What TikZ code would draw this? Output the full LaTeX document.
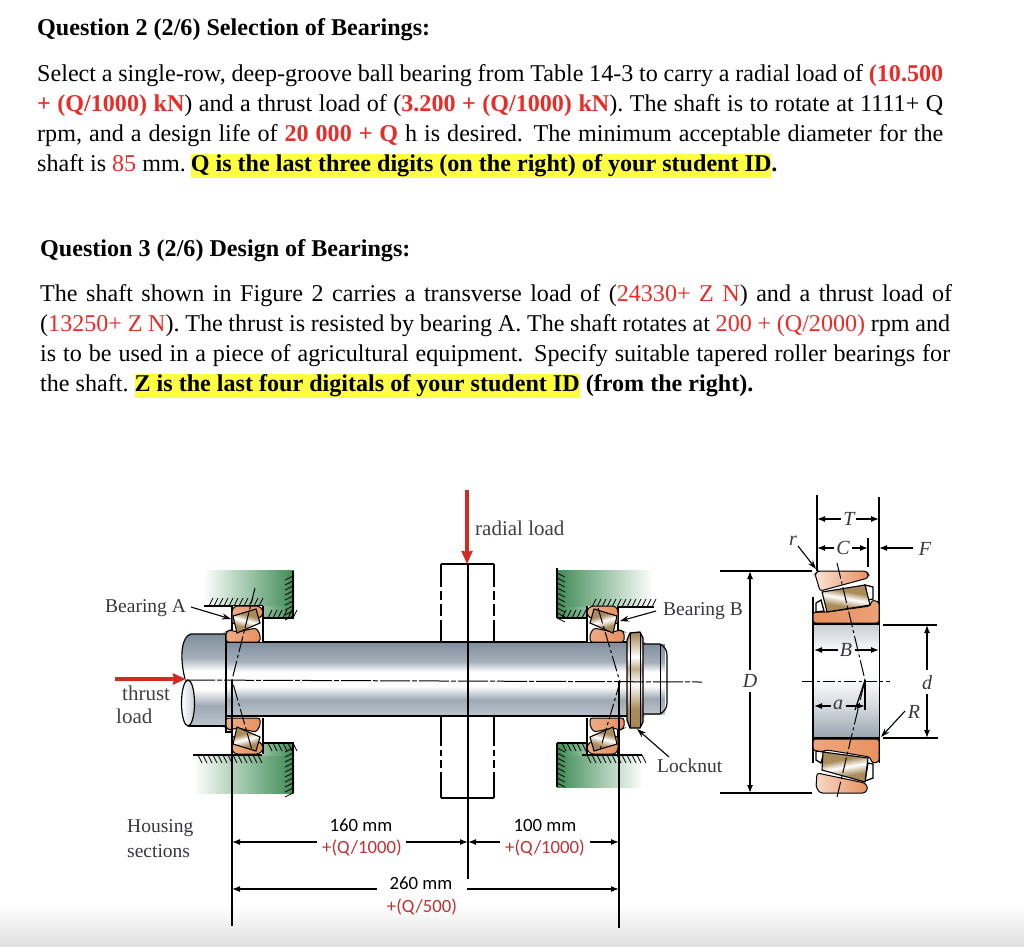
\documentclass[tikz,border=0pt]{standalone}
\usepackage{fontspec}
\setmainfont{Liberation Serif}
\newfontfamily\carl{Carlito}
\usetikzlibrary{arrows.meta}
\definecolor{qred}{RGB}{232,45,40}
\definecolor{dimred}{RGB}{190,50,50}
\definecolor{lab}{RGB}{55,55,60}
\definecolor{hl}{RGB}{255,255,65}
\definecolor{grn}{RGB}{62,140,85}
\definecolor{brg}{RGB}{232,145,95}
\definecolor{rol}{RGB}{170,140,90}
\definecolor{stl}{RGB}{125,140,155}
\pgfdeclareverticalshading{shaftsh}{100bp}{
 color(0bp)=(stl!90!black); color(8bp)=(stl); color(22bp)=(stl!45!white); color(36bp)=(stl!75!white);
 color(45bp)=(white); color(55bp)=(white); color(62bp)=(stl!70!white); color(76bp)=(stl);
 color(86bp)=(stl!60!white); color(94bp)=(stl); color(100bp)=(stl!90!black)}
\pgfdeclareverticalshading{boresh}{100bp}{
 color(0bp)=(stl!95!black); color(22bp)=(stl!90!white); color(38bp)=(stl!35!white); color(52bp)=(white);
 color(62bp)=(white); color(74bp)=(stl!40!white); color(84bp)=(stl!95!black); color(92bp)=(stl!55!white); color(100bp)=(stl!60!white)}
\pgfdeclareverticalshading{nutsh}{100bp}{
 color(0bp)=(rol!90!black); color(35bp)=(rol); color(48bp)=(white); color(56bp)=(white!30!rol); color(62bp)=(white); color(74bp)=(rol); color(100bp)=(rol!85!black)}
\pgfdeclareverticalshading{rollersh}{100bp}{
 color(0bp)=(rol); color(36bp)=(rol); color(50bp)=(white); color(62bp)=(rol); color(100bp)=(rol)}
\newcommand{\rd}[1]{\textcolor{qred}{#1}}
\newcommand{\hlt}[1]{\setlength{\fboxsep}{0pt}\colorbox{hl}{\rule[-6.5pt]{0pt}{22pt}#1}}
\tikzset{
 ln/.style={anchor=base west,inner sep=0,font=\fontsize{24.1}{28}\selectfont},
 lnb/.style={anchor=base west,inner sep=0,font=\bfseries\fontsize{24.1}{28}\selectfont},
 lab/.style={inner sep=0,text=lab,anchor=base west,font=\fontsize{19.5}{24}\selectfont},
 labl/.style={inner sep=0,text=black!75,anchor=base west,font=\fontsize{21}{24}\selectfont},
 dimtxt/.style={inner sep=0,font=\carl\fontsize{18.7}{22}\selectfont},
 dl/.style={black,line width=1.25pt},
 head/.style={-{Latex[length=8pt,width=6pt]}},
 tail/.style={{Latex[length=8pt,width=6pt]}-},
 hatchline/.style={black,line width=1.1pt},
 ol/.style={draw=black,line width=1.15pt},
 centre/.style={black,line width=1pt,dash pattern=on 30pt off 2pt on 5pt off 2pt},
 axisl/.style={black,line width=1pt,dash pattern=on 16pt off 3pt on 3pt off 3pt},
 ital/.style={inner sep=0,text=lab,font=\itshape\fontsize{20}{22}\selectfont},
 leader/.style={black,line width=1.1pt,-{Stealth[length=9pt,width=6pt]}},
 redar/.style={qred!90!black,line width=3.4pt,-{Stealth[length=13pt,width=11pt,inset=1pt]}},
 racesh/.style={left color=brg!75!white,right color=brg,draw=black,line width=1pt,rounded corners=2.5pt},
 rollsh/.style={shading=rollersh,draw=black,line width=1.1pt},
 grsh/.style={left color=white,right color=grn},
 grshr/.style={right color=white,left color=grn}
}
\newcommand{\hatchH}[4]{% x1 x2 y dy
  \draw[hatchline] (#1,#3)--(#2,#3);
  \pgfmathsetmacro{\st}{#1+5}
  \foreach \xx in {\st,...,#2}{\pgfmathtruncatemacro{\mm}{mod(\xx-#1,5)}\ifnum\mm=0 \draw[black,line width=.85pt] (\xx,#3)--++(4,#4);\fi}}
\newcommand{\hatchV}[4]{% y1 y2 x dx
  \draw[hatchline] (#3,#1)--(#3,#2);
  \pgfmathsetmacro{\st}{#1+5}
  \foreach \yy in {\st,...,#2}{\pgfmathtruncatemacro{\mm}{mod(\yy-#1,5)}\ifnum\mm=0 \draw[black,line width=.85pt] (#3,\yy)--++(#4,4);\fi}}
% one roller-bearing section, drawn for bearing A top, mirrored for the others
\newcommand{\bearingsec}[1]{%
  \fill[white] (232,606) rectangle (263,642);
  \draw[ol] (232,606)--(232,630);
  \draw[ol] (263,606)--(263,642);
  \path[racesh] (232,610)--(235,606)--(259,606)--(263,610)--(263,614)--(260,618)--(232,624)--cycle;
  \path[racesh] (226,642)--(226,632)--(230,630)--(237,632)--(256,628)--(260,634)--(260,642)--cycle;
  \path[rollsh,shading angle=#1] (233,616)--(256,609)--(260,623)--(237,633)--cycle;
}
\begin{document}
\begin{tikzpicture}[x=1pt,y=-1pt]
\useasboundingbox (0,0) rectangle (1024,946);
\fill[white] (0,0) rectangle (1024,946);
\shade[top color=white,bottom color=black!12] (0,905) rectangle (1024,946);
% Text
\node[lnb] (q2t) at (37,35) {Question 2 (2/6) Selection of Bearings:};
\node[ln] (q2a) at (37,81) {\makebox[906pt][s]{Select a single-row, deep-groove ball bearing from Table 14-3 to carry a radial load of \rd{\textbf{(10.500}}}};
\node[ln] (q2b) at (37,111) {\makebox[906pt][s]{\rd{\textbf{+ (Q/1000) kN}}) and a thrust load of (\rd{\textbf{3.200 + (Q/1000) kN}}). The shaft is to rotate at 1111+ Q}};
\node[ln] (q2c) at (37,141) {\makebox[906pt][s]{rpm, and a design life of \rd{\textbf{20 000 + Q}} h is desired. The minimum acceptable diameter for the}};
\node[ln] (q2d) at (37,171) {shaft is \rd{85} mm.\hspace{-3pt} \hlt{\textbf{Q is the last three digits (on the right) of your student ID}}\textbf{.}};
\node[lnb] (q3t) at (40,256) {Question 3 (2/6) Design of Bearings:};
\node[ln] (q3a) at (40,301) {\makebox[912pt][s]{The shaft shown in Figure 2 carries a transverse load of (\rd{24330+ Z N}) and a thrust load of}};
\node[ln] (q3b) at (40,331) {\makebox[910pt][s]{(\rd{13250+ Z N}). The thrust is resisted by bearing A. The shaft rotates at \rd{200 + (Q/2000)} rpm and}};
\node[ln] (q3c) at (40,361) {\makebox[910pt][s]{is to be used in a piece of agricultural equipment. Specify suitable tapered roller bearings for}};
\node[ln] (q3d) at (40,391) {the shaft.\hspace{-2pt} \hlt{\textbf{Z is the last four digitals of your student ID}} \textbf{(from the right).}};
% Housings
\shade[grsh] (203,570) rectangle (294,606);
\shade[right color=grn,left color=grn!55!white] (263,606) rectangle (294,618);
\shade[grsh] (193,755) rectangle (294,793);
\shade[right color=grn,left color=grn!55!white] (263,743) rectangle (294,755);
\shade[grshr] (557,570) rectangle (653,607);
\shade[left color=grn,right color=grn!55!white] (557,607) rectangle (587,618);
\shade[grshr] (557,755) rectangle (643,787);
\shade[left color=grn,right color=grn!55!white] (557,743) rectangle (587,755);
\hatchH{204}{263}{606}{-8}
\hatchH{263}{294}{618}{-8}
\hatchV{571}{618}{293}{-8}
\hatchH{193}{262}{755}{8}
\hatchH{263}{294}{743}{8}
\hatchV{743}{793}{293}{-8}
\hatchH{587}{654}{607}{-8}
\hatchH{557}{587}{618}{-8}
\hatchV{568}{618}{557}{8}
\hatchH{582}{642}{755}{8}
\hatchH{557}{587}{743}{8}
\hatchV{743}{787}{557}{8}
% Shaft
\path[shading=shaftsh] (226,642) rectangle (645,716);
\draw[ol] (226,642)--(640,642);
\draw[ol] (226,716)--(640,716);
\path[shading=shaftsh] (640,644) rectangle (665,714);
\draw[ol] (640,644)--(660,644) .. controls (664,646) and (667,650) .. (667,655) -- (667,703) .. controls (667,708) and (664,712) .. (660,714) -- (640,714);
\draw[black,line width=1pt] (660,644)--(660,714);
% Left stub end
\path[shading=shaftsh] (226,634) -- (191,634) .. controls (182,636) and (179,655) .. (185,679) -- (183,700) -- (190,726) -- (226,726) -- cycle;
\draw[ol] (226,634)--(191,634) .. controls (182,636) and (179,655) .. (185,679);
\draw[ol] (188,726)--(226,726);
\path[left color=white,right color=stl!40!white,draw=black,line width=1.15pt] (188,703) ellipse (6.5 and 23);
\draw[ol] (226,634)--(226,732)--(232,732);
% Gear section
\draw[ol] (441,564)--(494,564);
\draw[ol] (441,798)--(494,798);
\draw[ol,dash pattern=on 23pt off 4pt on 9pt off 4pt on 12pt off 4pt on 30pt] (441,564)--(441,642);
\draw[ol,dash pattern=on 23pt off 4pt on 9pt off 4pt on 12pt off 4pt on 30pt] (494,564)--(494,642);
\draw[ol,dash pattern=on 30pt off 4pt on 6pt off 4pt on 8pt off 4pt on 40pt] (441,716)--(441,798);
\draw[ol,dash pattern=on 30pt off 4pt on 6pt off 4pt on 8pt off 4pt on 40pt] (494,716)--(494,798);
% Bearings
\bearingsec{-15}
\begin{scope}[yscale=-1,yshift=1360pt]\bearingsec{15}\end{scope}
\begin{scope}[xscale=-1,xshift=-850pt]\bearingsec{15}\end{scope}
\begin{scope}[xscale=-1,yscale=-1,xshift=-850pt,yshift=1360pt]\bearingsec{-15}\end{scope}
% Locknut
\path[shading=nutsh,draw=black,line width=1.3pt] (627,640)--(630,633)--(640,632)--(643,638)--(643,722)--(640,728)--(630,728)--(627,720)--cycle;
\draw[black,line width=1pt] (630,633)--(630,728);
\draw[black,line width=1pt] (640,632)--(640,728);
% Centre lines
\draw[centre] (185,680)--(702,682);
\draw[axisl] (255,588)--(232,680)--(252,750);
\draw[axisl] (598,608)--(620,682)--(600,750);
\draw[dl] (468,564)--(468,879);
% Extension lines
\draw[dl] (232,680)--(232,926);
\draw[dl] (619,682)--(619,928);
% Loads
\coordinate (radT) at (467,564);
\draw[redar] (467,490)--(radT);
\node[labl] (rl) at (475,535) {radial load};
\coordinate (thrT) at (186,679);
\draw[redar] (115,679)--(thrT);
\node[labl] (tl1) at (122,700) {thrust};
\node[labl] (tl2) at (116,723) {load};
% labels
\node[lab] (ba) at (105,612) {Bearing A};
\coordinate (baT) at (231,619);
\draw[leader] (191,607)--(baT);
\node[lab] (bb) at (663,615) {Bearing B};
\coordinate (bbT) at (620,621);
\draw[leader] (656,611)--(bbT);
\node[lab] (ln) at (657,772) {Locknut};
\coordinate (lnT) at (637,729);
\draw[leader] (669,757)--(lnT);
\node[lab] (hs1) at (127,832) {Housing};
\node[lab] (hs2) at (127,857) {sections};
% Dimensions
\coordinate (d1) at (232,842); \coordinate (d2) at (468,842); \coordinate (d3) at (619,842);
\coordinate (e1) at (232,889); \coordinate (e3) at (619,889);
\node[dimtxt] (t160) at (361,825) {160 mm};
\node[dimtxt,text=dimred] (q160) at (362,848) {+(Q/1000)};
\node[dimtxt] (t100) at (545,825) {100 mm};
\node[dimtxt,text=dimred] (q100) at (545,848) {+(Q/1000)};
\node[dimtxt] (t260) at (421,883) {260 mm};
\node[dimtxt,text=dimred] (q260) at (422,907) {+(Q/500)};
\draw[dl,tail] (d1)--(317,842);
\draw[dl,head] (406,842)--(d2);
\draw[dl,tail] (d2)--(500,842);
\draw[dl,head] (590,842)--(d3);
\draw[dl,tail] (e1)--(377,889);
\draw[dl,head] (467,889)--(e3);
% D dimension
\draw[dl] (720,571)--(812,571);
\draw[dl] (720,793)--(812,793);
\node[ital] (dD) at (750,681) {D};
\draw[dl,tail] (750,571)--(750,670);
\draw[dl,head] (750,692)--(750,793);
% Detail bearing
\draw[dl] (817,495)--(817,571);
\draw[dl] (879,497)--(879,602);
\draw[dl] (868,538)--(868,567);
\path[shading=boresh] (813,624) rectangle (879,738);
\draw[ol] (813,624)--(879,624);
\draw[ol] (813,738)--(879,738);
\draw[black,line width=1.8pt] (813,597)--(813,763);
\draw[black,line width=1pt] (879,600)--(879,763);
% outer/inner races, top
\path[racesh,left color=brg!25!white,right color=brg] (815,574)--(818,571)--(866,571)--(868,574)--(868,578)--(820,591)--cycle;
\path[racesh,left color=brg,right color=brg!85!white] (813,623)--(813,612)--(827,612)--(870,606)--(872,600)--(879,602)--(879,623)--cycle;
% inner/outer races, bottom
\path[racesh,left color=brg!80!white,right color=brg] (813,739)--(879,739)--(879,762)--(872,763)--(870,757)--(827,750)--(820,752)--(813,750)--cycle;
\path[racesh,left color=brg!35!white,right color=brg] (817,773)--(865,783)--(868,788)--(865,793)--(820,793)--(816,787)--cycle;
% cage bits
\path[fill=white,draw=black,line width=1.3pt] (865,585)--(873,587)--(873,599)--(868,600)--cycle;
\path[fill=white,draw=black,line width=1.3pt] (816,603)--(821,600)--(824,611)--(816,612)--cycle;
\path[fill=white,draw=black,line width=1.3pt] (865,781)--(873,778)--(873,764)--(868,763)--cycle;
\path[fill=white,draw=black,line width=1.3pt] (816,760)--(821,763)--(824,752)--(816,751)--cycle;
% rollers
\path[rollsh,shading angle=-10] (822,592)--(865,585)--(870,605)--(827,612)--cycle;
\path[rollsh,shading angle=10] (823,752)--(868,758)--(865,782)--(822,770)--cycle;
\draw[axisl] (837,563)--(865,680)--(837,797);
\draw[black,line width=1pt,dash pattern=on 12pt off 3pt on 3pt off 3pt] (802,681)--(890,681);
\draw[dl] (865,680)--(865,710);
\draw[dl] (865,680)--(855,710);
\node[ital] (T) at (849,519) {T};
\draw[dl,tail] (817,519)--(841,519);
\draw[dl,head] (856,519)--(879,519);
\node[ital] (C) at (843,548) {C};
\draw[dl,tail] (817,548)--(834,548);
\draw[dl,head] (852,548)--(868,548);
\draw[dl,tail] (879,548)--(913,548);
\node[ital] (F) at (925,549) {F};
\node[ital] (rr) at (793,541) {r};
\draw[leader] (798,546)--(816,569);
\node[ital] (B) at (846,650) {B};
\draw[dl,tail] (814,650)--(838,650);
\draw[dl,head] (855,650)--(879,650);
\node[ital] (a) at (838,705) {a};
\draw[dl,tail] (814,706)--(831,706);
\draw[dl,head] (846,706)--(865,706);
\node[ital] (dd) at (927,683) {d};
\draw[dl] (883,625)--(937,625);
\draw[dl] (883,738)--(938,738);
\draw[dl,tail] (927,625)--(927,670);
\draw[dl,head] (927,694)--(927,738);
\node[ital] (R) at (914,712) {R};
\draw[leader] (905,711)--(881,737);
\end{tikzpicture}
\end{document}
